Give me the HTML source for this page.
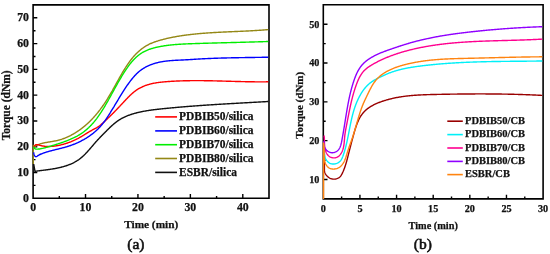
<!DOCTYPE html>
<html><head><meta charset="utf-8"><title>Torque curves</title>
<style>
html,body{margin:0;padding:0;background:#fff;}
body{width:550px;height:254px;overflow:hidden;}
svg{display:block;}
.lt{font-family:"Liberation Serif","Times New Roman",serif;font-weight:bold;fill:#111;stroke:#111;stroke-width:0.25px;}
.pl{font-family:"Liberation Serif","Times New Roman",serif;font-weight:normal;font-size:15.5px;fill:#111;stroke:#111;stroke-width:0.6px;}
</style></head>
<body>
<svg width="550" height="254" viewBox="0 0 550 254">
<rect width="550" height="254" fill="#fff"/>
<path d="M33.10,4.90H269.00V198.30H33.10Z" fill="none" stroke="#000" stroke-width="1.60" stroke-linejoin="miter"/>
<path d="M85.52,198.30V194.10M137.94,198.30V194.10M190.37,198.30V194.10M242.79,198.30V194.10M59.31,198.30V195.90M111.73,198.30V195.90M164.16,198.30V195.90M216.58,198.30V195.90M33.10,172.51H37.30M33.10,146.73H37.30M33.10,120.94H37.30M33.10,95.15H37.30M33.10,69.37H37.30M33.10,43.58H37.30M33.10,17.79H37.30M33.10,185.41H35.50M33.10,159.62H35.50M33.10,133.83H35.50M33.10,108.05H35.50M33.10,82.26H35.50M33.10,56.47H35.50M33.10,30.69H35.50" stroke="#000" stroke-width="1.4"/>
<g class="lt" font-size="11.80" text-anchor="middle">
<text x="33.10" y="210.7">0</text>
<text x="85.52" y="210.7">10</text>
<text x="137.94" y="210.7">20</text>
<text x="190.37" y="210.7">30</text>
<text x="242.79" y="210.7">40</text>
</g><g class="lt" font-size="11.80" text-anchor="end">
<text x="29.0" y="201.80">0</text>
<text x="29.0" y="176.01">10</text>
<text x="29.0" y="150.23">20</text>
<text x="29.0" y="124.44">30</text>
<text x="29.0" y="98.65">40</text>
<text x="29.0" y="72.87">50</text>
<text x="29.0" y="47.08">60</text>
<text x="29.0" y="21.29">70</text>
</g>
<path d="M323.30,4.80H543.10V198.90H323.30Z" fill="none" stroke="#000" stroke-width="1.60" stroke-linejoin="miter"/>
<path d="M359.93,198.90V194.70M396.57,198.90V194.70M433.20,198.90V194.70M469.83,198.90V194.70M506.47,198.90V194.70M341.62,198.90V196.50M378.25,198.90V196.50M414.88,198.90V196.50M451.52,198.90V196.50M488.15,198.90V196.50M524.78,198.90V196.50M323.30,179.49H327.50M323.30,140.67H327.50M323.30,101.85H327.50M323.30,63.03H327.50M323.30,24.21H327.50M323.30,160.08H325.70M323.30,121.26H325.70M323.30,82.44H325.70M323.30,43.62H325.70" stroke="#000" stroke-width="1.4"/>
<g class="lt" font-size="10.20" text-anchor="middle">
<text x="323.30" y="211.5">0</text>
<text x="359.93" y="211.5">5</text>
<text x="396.57" y="211.5">10</text>
<text x="433.20" y="211.5">15</text>
<text x="469.83" y="211.5">20</text>
<text x="506.47" y="211.5">25</text>
<text x="543.10" y="211.5">30</text>
</g><g class="lt" font-size="10.20" text-anchor="end">
<text x="319.4" y="182.89">10</text>
<text x="319.4" y="144.07">20</text>
<text x="319.4" y="105.25">30</text>
<text x="319.4" y="66.43">40</text>
<text x="319.4" y="27.61">50</text>
</g>
<g fill="none" stroke-width="1.40" stroke-linejoin="round" stroke-linecap="butt">
<path d="M33.70,164.20L35.00,171.30L35.00,171.30L35.58,171.23L36.16,171.15L36.75,171.07L37.33,170.99L37.92,170.92L38.51,170.84L39.10,170.77L39.69,170.69L40.28,170.62L40.87,170.55L41.47,170.47L42.06,170.40L42.66,170.32L43.26,170.25L43.86,170.17L44.45,170.10L45.05,170.02L45.65,169.94L46.25,169.86L46.85,169.78L47.46,169.70L48.06,169.62L48.66,169.54L49.26,169.45L49.86,169.36L50.46,169.27L51.06,169.18L51.66,169.09L52.26,168.99L52.86,168.89L53.46,168.79L54.06,168.69L54.66,168.58L55.26,168.47L55.85,168.36L56.45,168.25L57.04,168.13L57.64,168.01L58.23,167.88L58.82,167.75L59.41,167.62L59.99,167.49L60.58,167.35L61.16,167.20L61.75,167.05L62.33,166.90L62.91,166.75L63.48,166.58L64.06,166.42L64.63,166.25L65.20,166.07L65.77,165.89L66.33,165.71L66.90,165.52L67.46,165.32L68.02,165.12L68.57,164.91L69.12,164.70L69.67,164.48L70.22,164.26L70.76,164.03L71.30,163.80L71.84,163.55L72.37,163.31L72.90,163.05L73.43,162.79L73.95,162.52L74.47,162.25L74.99,161.97L75.50,161.68L76.01,161.38L76.51,161.08L77.01,160.77L77.51,160.45L78.00,160.13L78.48,159.80L78.97,159.46L79.45,159.11L79.92,158.75L80.39,158.39L80.85,158.02L81.31,157.64L81.77,157.25L82.22,156.86L82.67,156.46L83.11,156.06L83.56,155.64L83.99,155.23L84.43,154.81L84.86,154.38L85.29,153.95L85.71,153.51L86.13,153.07L86.55,152.63L86.97,152.18L87.39,151.73L87.80,151.28L88.21,150.82L88.62,150.36L89.02,149.90L89.43,149.44L89.83,148.98L90.23,148.51L90.63,148.05L91.03,147.58L91.43,147.11L91.83,146.65L92.23,146.18L92.62,145.71L93.02,145.25L93.41,144.78L93.81,144.32L94.20,143.86L94.60,143.40L94.99,142.94L95.39,142.49L95.78,142.04L96.18,141.59L96.58,141.15L96.97,140.70L97.37,140.27L97.77,139.83L98.17,139.40L98.57,138.97L98.98,138.55L99.38,138.12L99.79,137.70L100.19,137.28L100.60,136.86L101.01,136.44L101.41,136.02L101.82,135.61L102.23,135.19L102.65,134.77L103.06,134.35L103.47,133.93L103.89,133.51L104.31,133.09L104.72,132.67L105.14,132.24L105.56,131.82L105.98,131.39L106.41,130.96L106.83,130.53L107.26,130.11L107.69,129.68L108.12,129.25L108.55,128.82L108.98,128.40L109.42,127.97L109.86,127.55L110.30,127.13L110.74,126.71L111.19,126.30L111.64,125.89L112.09,125.48L112.54,125.07L113.00,124.67L113.46,124.27L113.92,123.88L114.38,123.49L114.85,123.11L115.33,122.73L115.80,122.36L116.28,121.99L116.76,121.63L117.25,121.28L117.74,120.93L118.23,120.59L118.73,120.26L119.23,119.93L119.73,119.61L120.24,119.30L120.75,119.00L121.27,118.70L121.79,118.41L122.31,118.13L122.84,117.86L123.37,117.59L123.90,117.33L124.44,117.07L124.98,116.82L125.52,116.58L126.06,116.34L126.61,116.11L127.16,115.89L127.71,115.67L128.26,115.45L128.82,115.24L129.38,115.04L129.94,114.84L130.50,114.64L131.06,114.46L131.63,114.27L132.20,114.09L132.77,113.92L133.34,113.75L133.91,113.58L134.49,113.42L135.06,113.26L135.64,113.10L136.22,112.95L136.80,112.80L137.38,112.66L137.96,112.52L138.54,112.38L139.12,112.25L139.70,112.11L140.29,111.99L140.87,111.86L141.46,111.74L142.05,111.62L142.63,111.50L143.22,111.39L143.81,111.28L144.40,111.17L144.99,111.07L145.58,110.96L146.17,110.86L146.76,110.76L147.36,110.67L147.95,110.57L148.54,110.48L149.14,110.39L149.73,110.30L150.33,110.22L150.92,110.13L151.52,110.05L152.11,109.97L152.71,109.89L153.31,109.82L153.91,109.74L154.50,109.67L155.10,109.59L155.70,109.52L156.30,109.45L156.90,109.38L157.49,109.31L158.09,109.25L158.69,109.18L159.29,109.11L159.89,109.05L160.49,108.99L161.09,108.92L161.69,108.86L162.29,108.80L162.89,108.74L163.49,108.67L164.09,108.61L164.68,108.55L165.28,108.49L165.88,108.43L166.48,108.37L167.08,108.31L167.68,108.26L168.28,108.20L168.88,108.14L169.48,108.08L170.08,108.02L170.67,107.97L171.27,107.91L171.87,107.85L172.47,107.80L173.07,107.74L173.67,107.69L174.27,107.63L174.86,107.58L175.46,107.53L176.06,107.47L176.66,107.42L177.26,107.37L177.86,107.31L178.45,107.26L179.05,107.21L179.65,107.16L180.25,107.10L180.85,107.05L181.45,107.00L182.04,106.95L182.64,106.90L183.24,106.85L183.84,106.80L184.44,106.75L185.03,106.70L185.63,106.66L186.23,106.61L186.83,106.56L187.43,106.51L188.02,106.46L188.62,106.42L189.22,106.37L189.82,106.32L190.41,106.28L191.01,106.23L191.61,106.18L192.21,106.14L192.81,106.09L193.40,106.05L194.00,106.00L194.60,105.96L195.20,105.91L195.79,105.87L196.39,105.83L196.99,105.78L197.59,105.74L198.19,105.70L198.78,105.65L199.38,105.61L199.98,105.57L200.58,105.53L201.17,105.48L201.77,105.44L202.37,105.40L202.97,105.36L203.56,105.32L204.16,105.28L204.76,105.24L205.36,105.19L205.95,105.15L206.55,105.11L207.15,105.07L207.75,105.03L208.35,104.99L208.94,104.96L209.54,104.92L210.14,104.88L210.74,104.84L211.33,104.80L211.93,104.76L212.53,104.72L213.13,104.68L213.72,104.65L214.32,104.61L214.92,104.57L215.52,104.53L216.12,104.50L216.71,104.46L217.31,104.42L217.91,104.38L218.51,104.35L219.10,104.31L219.70,104.27L220.30,104.24L220.90,104.20L221.50,104.16L222.09,104.13L222.69,104.09L223.29,104.06L223.89,104.02L224.49,103.99L225.08,103.95L225.68,103.91L226.28,103.88L226.88,103.84L227.48,103.81L228.07,103.77L228.67,103.74L229.27,103.70L229.87,103.67L230.47,103.63L231.06,103.60L231.66,103.57L232.26,103.53L232.86,103.50L233.46,103.46L234.06,103.43L234.65,103.39L235.25,103.36L235.85,103.33L236.45,103.29L237.05,103.26L237.65,103.22L238.25,103.19L238.84,103.16L239.44,103.12L240.04,103.09L240.64,103.06L241.24,103.02L241.84,102.99L242.44,102.96L243.04,102.92L243.63,102.89L244.23,102.86L244.83,102.82L245.43,102.79L246.03,102.75L246.63,102.72L247.23,102.69L247.83,102.65L248.43,102.62L249.03,102.59L249.63,102.55L250.23,102.52L250.83,102.49L251.43,102.45L252.03,102.42L252.62,102.39L253.22,102.35L253.82,102.32L254.42,102.29L255.02,102.25L255.62,102.22L256.22,102.19L256.82,102.15L257.42,102.12L258.02,102.09L258.62,102.05L259.22,102.02L259.82,101.98L260.43,101.95L261.03,101.92L261.63,101.88L262.23,101.85L262.83,101.81L263.43,101.78L264.03,101.75L264.63,101.71L265.23,101.68L265.83,101.64L266.43,101.61L267.03,101.57L267.63,101.54L268.24,101.50L268.30,101.50" stroke="#101010"/>
<path d="M33.30,164.00L33.30,145.30L33.90,147.50L33.89,147.50L34.38,147.06L34.88,146.66L35.39,146.28L35.90,145.93L36.42,145.60L36.94,145.30L37.47,145.02L38.00,144.76L38.54,144.52L39.08,144.30L39.63,144.09L40.18,143.90L40.73,143.73L41.29,143.56L41.85,143.41L42.41,143.27L42.97,143.14L43.54,143.01L44.11,142.89L44.68,142.78L45.25,142.66L45.82,142.56L46.40,142.45L46.97,142.35L47.55,142.25L48.13,142.15L48.70,142.06L49.28,141.96L49.86,141.87L50.44,141.77L51.02,141.67L51.60,141.58L52.19,141.48L52.77,141.38L53.35,141.28L53.93,141.17L54.52,141.06L55.10,140.95L55.68,140.83L56.26,140.71L56.84,140.58L57.42,140.45L58.00,140.31L58.58,140.16L59.16,140.01L59.74,139.85L60.32,139.68L60.90,139.51L61.47,139.32L62.05,139.14L62.62,138.94L63.19,138.74L63.76,138.53L64.33,138.31L64.90,138.09L65.47,137.86L66.03,137.62L66.59,137.38L67.15,137.14L67.71,136.89L68.27,136.63L68.82,136.37L69.37,136.10L69.92,135.82L70.47,135.55L71.01,135.26L71.56,134.97L72.09,134.68L72.63,134.38L73.16,134.08L73.69,133.78L74.22,133.47L74.75,133.15L75.27,132.84L75.78,132.52L76.30,132.19L76.81,131.86L77.32,131.53L77.82,131.20L78.32,130.86L78.82,130.51L79.32,130.17L79.81,129.82L80.30,129.46L80.78,129.11L81.26,128.75L81.74,128.39L82.22,128.02L82.69,127.65L83.16,127.28L83.63,126.90L84.10,126.52L84.56,126.14L85.02,125.75L85.47,125.36L85.92,124.97L86.37,124.58L86.82,124.18L87.26,123.78L87.71,123.38L88.14,122.97L88.58,122.56L89.01,122.15L89.44,121.74L89.87,121.32L90.30,120.90L90.72,120.48L91.14,120.05L91.55,119.62L91.97,119.19L92.38,118.76L92.79,118.33L93.19,117.89L93.60,117.45L94.00,117.01L94.40,116.56L94.79,116.11L95.18,115.66L95.58,115.21L95.96,114.76L96.35,114.30L96.73,113.85L97.11,113.39L97.49,112.92L97.87,112.46L98.24,111.99L98.61,111.52L98.98,111.05L99.35,110.58L99.72,110.11L100.08,109.63L100.44,109.15L100.80,108.67L101.15,108.19L101.50,107.71L101.86,107.22L102.21,106.74L102.55,106.25L102.90,105.76L103.24,105.27L103.58,104.78L103.92,104.28L104.25,103.79L104.59,103.29L104.92,102.79L105.25,102.29L105.58,101.79L105.91,101.29L106.23,100.79L106.55,100.28L106.87,99.78L107.19,99.27L107.51,98.76L107.82,98.25L108.14,97.74L108.45,97.23L108.76,96.72L109.07,96.21L109.38,95.69L109.68,95.18L109.99,94.66L110.29,94.15L110.59,93.63L110.89,93.11L111.19,92.59L111.49,92.08L111.79,91.56L112.09,91.04L112.38,90.51L112.68,89.99L112.97,89.47L113.27,88.95L113.56,88.43L113.85,87.90L114.15,87.38L114.44,86.85L114.73,86.33L115.02,85.81L115.31,85.28L115.60,84.76L115.89,84.23L116.18,83.71L116.48,83.18L116.77,82.66L117.06,82.13L117.35,81.61L117.64,81.08L117.93,80.55L118.22,80.03L118.52,79.50L118.81,78.98L119.10,78.46L119.40,77.93L119.69,77.41L119.99,76.88L120.28,76.36L120.58,75.84L120.88,75.31L121.18,74.79L121.48,74.27L121.78,73.75L122.08,73.23L122.39,72.71L122.69,72.19L123.00,71.67L123.31,71.15L123.62,70.64L123.93,70.12L124.24,69.61L124.56,69.10L124.88,68.58L125.19,68.07L125.52,67.57L125.84,67.06L126.17,66.55L126.49,66.05L126.82,65.55L127.16,65.05L127.49,64.55L127.83,64.05L128.17,63.56L128.52,63.07L128.86,62.58L129.21,62.09L129.57,61.61L129.92,61.13L130.28,60.65L130.65,60.17L131.01,59.70L131.38,59.23L131.76,58.76L132.13,58.30L132.52,57.84L132.90,57.38L133.29,56.92L133.68,56.47L134.08,56.03L134.48,55.58L134.89,55.14L135.30,54.71L135.71,54.27L136.13,53.84L136.56,53.42L136.98,53.00L137.42,52.58L137.86,52.17L138.30,51.76L138.75,51.36L139.20,50.96L139.66,50.56L140.12,50.18L140.59,49.79L141.06,49.41L141.54,49.04L142.02,48.67L142.51,48.31L143.00,47.95L143.49,47.60L143.99,47.26L144.49,46.93L145.00,46.60L145.51,46.28L146.02,45.96L146.54,45.65L147.06,45.36L147.59,45.06L148.11,44.78L148.64,44.51L149.18,44.24L149.71,43.98L150.25,43.73L150.79,43.49L151.34,43.26L151.88,43.03L152.43,42.81L152.98,42.59L153.54,42.38L154.09,42.18L154.65,41.98L155.21,41.78L155.77,41.59L156.33,41.41L156.90,41.23L157.46,41.05L158.03,40.88L158.60,40.70L159.17,40.53L159.74,40.37L160.31,40.20L160.88,40.04L161.45,39.88L162.03,39.73L162.60,39.57L163.18,39.42L163.76,39.27L164.34,39.12L164.92,38.98L165.50,38.83L166.08,38.69L166.66,38.55L167.24,38.42L167.82,38.28L168.41,38.15L168.99,38.02L169.58,37.89L170.17,37.76L170.75,37.64L171.34,37.52L171.93,37.40L172.52,37.28L173.11,37.16L173.70,37.05L174.29,36.94L174.88,36.83L175.47,36.72L176.07,36.61L176.66,36.51L177.25,36.40L177.85,36.30L178.44,36.20L179.04,36.10L179.63,36.01L180.23,35.91L180.82,35.82L181.42,35.73L182.02,35.64L182.61,35.55L183.21,35.46L183.81,35.38L184.41,35.30L185.00,35.21L185.60,35.13L186.20,35.05L186.80,34.97L187.40,34.90L188.00,34.82L188.60,34.75L189.20,34.68L189.80,34.60L190.40,34.53L190.99,34.47L191.59,34.40L192.19,34.33L192.79,34.27L193.39,34.20L193.99,34.14L194.59,34.08L195.19,34.02L195.79,33.96L196.39,33.90L196.99,33.84L197.59,33.78L198.18,33.73L198.78,33.67L199.38,33.62L199.98,33.57L200.58,33.51L201.18,33.46L201.78,33.41L202.37,33.36L202.97,33.32L203.57,33.27L204.17,33.22L204.77,33.18L205.36,33.13L205.96,33.09L206.56,33.04L207.16,33.00L207.76,32.96L208.35,32.92L208.95,32.88L209.55,32.84L210.15,32.80L210.75,32.76L211.34,32.72L211.94,32.68L212.54,32.65L213.14,32.61L213.73,32.57L214.33,32.54L214.93,32.51L215.53,32.47L216.12,32.44L216.72,32.41L217.32,32.37L217.92,32.34L218.51,32.31L219.11,32.28L219.71,32.25L220.31,32.22L220.90,32.19L221.50,32.16L222.10,32.13L222.70,32.10L223.29,32.07L223.89,32.04L224.49,32.01L225.09,31.99L225.68,31.96L226.28,31.93L226.88,31.90L227.47,31.88L228.07,31.85L228.67,31.82L229.27,31.80L229.86,31.77L230.46,31.75L231.06,31.72L231.66,31.69L232.26,31.67L232.85,31.64L233.45,31.62L234.05,31.59L234.65,31.56L235.24,31.54L235.84,31.51L236.44,31.49L237.04,31.46L237.63,31.43L238.23,31.41L238.83,31.38L239.43,31.36L240.03,31.33L240.62,31.30L241.22,31.27L241.82,31.25L242.42,31.22L243.02,31.19L243.62,31.16L244.21,31.14L244.81,31.11L245.41,31.08L246.01,31.05L246.61,31.02L247.21,30.99L247.81,30.96L248.40,30.93L249.00,30.90L249.60,30.87L250.20,30.84L250.80,30.81L251.40,30.77L252.00,30.74L252.60,30.71L253.20,30.67L253.80,30.64L254.40,30.60L254.99,30.57L255.59,30.53L256.19,30.49L256.79,30.46L257.39,30.42L257.99,30.38L258.59,30.34L259.19,30.30L259.79,30.26L260.39,30.22L261.00,30.18L261.60,30.13L262.20,30.09L262.80,30.04L263.40,30.00L264.00,29.95L264.60,29.91L265.20,29.86L265.80,29.81L266.40,29.76L267.01,29.71L267.61,29.66L268.21,29.61L268.30,29.60" stroke="#948816"/>
<path d="M33.89,147.00L34.27,146.25L34.67,145.66L35.10,145.22L35.54,144.91L36.01,144.71L36.49,144.62L36.99,144.60L37.50,144.66L38.03,144.76L38.56,144.91L39.10,145.08L39.66,145.25L40.21,145.42L40.78,145.57L41.34,145.71L41.91,145.84L42.49,145.96L43.07,146.06L43.65,146.15L44.24,146.23L44.83,146.30L45.42,146.35L46.02,146.40L46.62,146.44L47.22,146.46L47.82,146.48L48.43,146.48L49.03,146.48L49.64,146.46L50.25,146.44L50.86,146.41L51.47,146.37L52.08,146.32L52.69,146.27L53.30,146.21L53.91,146.14L54.52,146.06L55.12,145.98L55.73,145.89L56.33,145.79L56.94,145.69L57.54,145.58L58.14,145.47L58.73,145.35L59.33,145.22L59.92,145.10L60.51,144.97L61.09,144.83L61.68,144.69L62.26,144.54L62.83,144.39L63.41,144.24L63.98,144.08L64.55,143.92L65.12,143.75L65.68,143.57L66.25,143.40L66.81,143.22L67.36,143.03L67.92,142.84L68.48,142.64L69.03,142.44L69.58,142.24L70.13,142.03L70.68,141.81L71.22,141.60L71.77,141.37L72.31,141.14L72.85,140.91L73.40,140.67L73.94,140.43L74.47,140.19L75.01,139.93L75.55,139.68L76.08,139.42L76.62,139.15L77.15,138.88L77.69,138.61L78.22,138.33L78.75,138.04L79.28,137.75L79.81,137.46L80.34,137.16L80.87,136.85L81.40,136.55L81.94,136.23L82.47,135.91L83.00,135.59L83.53,135.27L84.05,134.94L84.58,134.61L85.11,134.28L85.64,133.95L86.17,133.62L86.69,133.29L87.22,132.97L87.75,132.64L88.27,132.33L88.79,132.01L89.31,131.70L89.83,131.40L90.35,131.10L90.87,130.81L91.39,130.53L91.90,130.25L92.41,129.98L92.93,129.71L93.44,129.44L93.94,129.17L94.45,128.90L94.95,128.63L95.45,128.35L95.95,128.07L96.45,127.79L96.94,127.49L97.44,127.20L97.93,126.89L98.41,126.57L98.90,126.24L99.38,125.90L99.86,125.55L100.33,125.18L100.81,124.80L101.28,124.41L101.74,124.02L102.21,123.61L102.67,123.20L103.13,122.78L103.59,122.36L104.04,121.93L104.50,121.50L104.95,121.07L105.39,120.65L105.84,120.22L106.28,119.79L106.72,119.37L107.16,118.95L107.60,118.53L108.03,118.11L108.47,117.70L108.90,117.28L109.33,116.87L109.76,116.46L110.18,116.04L110.61,115.63L111.03,115.22L111.45,114.81L111.87,114.39L112.28,113.98L112.70,113.57L113.12,113.15L113.53,112.73L113.94,112.32L114.35,111.90L114.76,111.48L115.17,111.06L115.58,110.63L115.99,110.21L116.40,109.79L116.80,109.36L117.21,108.94L117.62,108.51L118.02,108.08L118.43,107.65L118.83,107.22L119.24,106.79L119.65,106.36L120.05,105.92L120.46,105.49L120.87,105.06L121.28,104.62L121.68,104.18L122.09,103.75L122.50,103.31L122.92,102.87L123.33,102.43L123.74,101.99L124.16,101.54L124.57,101.10L124.99,100.66L125.41,100.21L125.83,99.77L126.26,99.32L126.68,98.88L127.11,98.43L127.54,97.99L127.97,97.54L128.40,97.10L128.84,96.66L129.28,96.22L129.72,95.79L130.16,95.36L130.61,94.93L131.06,94.51L131.51,94.09L131.97,93.68L132.43,93.27L132.89,92.87L133.36,92.47L133.83,92.08L134.30,91.70L134.78,91.33L135.26,90.96L135.74,90.60L136.23,90.25L136.72,89.91L137.22,89.58L137.72,89.26L138.22,88.95L138.73,88.65L139.24,88.35L139.76,88.07L140.28,87.79L140.80,87.52L141.33,87.26L141.86,87.01L142.39,86.76L142.93,86.52L143.47,86.30L144.01,86.07L144.56,85.86L145.11,85.65L145.66,85.45L146.21,85.26L146.77,85.07L147.33,84.89L147.89,84.71L148.46,84.55L149.03,84.39L149.60,84.23L150.17,84.08L150.74,83.94L151.32,83.80L151.90,83.66L152.48,83.54L153.06,83.41L153.64,83.29L154.23,83.18L154.82,83.07L155.41,82.97L156.00,82.87L156.59,82.77L157.18,82.68L157.78,82.59L158.37,82.51L158.97,82.43L159.57,82.35L160.17,82.28L160.77,82.21L161.37,82.14L161.97,82.08L162.57,82.01L163.17,81.95L163.78,81.90L164.38,81.84L164.98,81.79L165.59,81.74L166.19,81.69L166.80,81.64L167.40,81.60L168.01,81.55L168.61,81.51L169.21,81.47L169.82,81.43L170.42,81.39L171.03,81.35L171.63,81.31L172.23,81.28L172.84,81.24L173.44,81.21L174.04,81.18L174.65,81.15L175.25,81.12L175.85,81.09L176.45,81.06L177.06,81.03L177.66,81.00L178.26,80.98L178.86,80.96L179.47,80.93L180.07,80.91L180.67,80.89L181.27,80.87L181.87,80.85L182.47,80.83L183.08,80.81L183.68,80.80L184.28,80.78L184.88,80.76L185.48,80.75L186.08,80.74L186.68,80.73L187.28,80.71L187.88,80.70L188.48,80.69L189.09,80.68L189.69,80.68L190.29,80.67L190.89,80.66L191.49,80.66L192.09,80.65L192.69,80.65L193.29,80.64L193.89,80.64L194.49,80.64L195.09,80.63L195.69,80.63L196.29,80.63L196.89,80.63L197.49,80.63L198.09,80.63L198.68,80.64L199.28,80.64L199.88,80.64L200.48,80.65L201.08,80.65L201.68,80.66L202.28,80.66L202.88,80.67L203.48,80.67L204.08,80.68L204.68,80.69L205.27,80.69L205.87,80.70L206.47,80.71L207.07,80.72L207.67,80.73L208.27,80.74L208.87,80.75L209.47,80.76L210.06,80.77L210.66,80.79L211.26,80.80L211.86,80.81L212.46,80.82L213.06,80.83L213.66,80.85L214.25,80.86L214.85,80.88L215.45,80.89L216.05,80.90L216.65,80.92L217.25,80.93L217.84,80.95L218.44,80.96L219.04,80.98L219.64,81.00L220.24,81.01L220.84,81.03L221.43,81.04L222.03,81.06L222.63,81.08L223.23,81.09L223.83,81.11L224.42,81.13L225.02,81.14L225.62,81.16L226.22,81.18L226.82,81.19L227.42,81.21L228.01,81.23L228.61,81.24L229.21,81.26L229.81,81.28L230.41,81.30L231.01,81.31L231.61,81.33L232.20,81.35L232.80,81.36L233.40,81.38L234.00,81.40L234.60,81.41L235.20,81.43L235.80,81.45L236.39,81.46L236.99,81.48L237.59,81.49L238.19,81.51L238.79,81.53L239.39,81.54L239.99,81.56L240.59,81.57L241.19,81.59L241.78,81.60L242.38,81.61L242.98,81.63L243.58,81.64L244.18,81.65L244.78,81.67L245.38,81.68L245.98,81.69L246.58,81.70L247.18,81.72L247.78,81.73L248.38,81.74L248.98,81.75L249.58,81.76L250.18,81.77L250.78,81.78L251.38,81.78L251.98,81.79L252.58,81.80L253.18,81.81L253.78,81.81L254.38,81.82L254.98,81.83L255.58,81.83L256.18,81.84L256.78,81.84L257.38,81.84L257.98,81.85L258.58,81.85L259.19,81.85L259.79,81.85L260.39,81.85L260.99,81.85L261.59,81.85L262.19,81.85L262.79,81.85L263.40,81.85L264.00,81.84L264.60,81.84L265.20,81.83L265.80,81.83L266.41,81.82L267.01,81.82L267.61,81.81L268.22,81.80L268.30,81.80" stroke="#ff0000"/>
<path d="M33.80,146.60L34.04,147.42L34.35,148.04L34.74,148.50L35.17,148.82L35.66,149.02L36.18,149.13L36.73,149.16L37.29,149.15L37.85,149.12L38.42,149.07L38.98,149.01L39.54,148.94L40.11,148.85L40.67,148.76L41.23,148.66L41.80,148.55L42.36,148.43L42.93,148.31L43.49,148.18L44.06,148.04L44.62,147.89L45.19,147.74L45.75,147.59L46.32,147.43L46.89,147.26L47.46,147.09L48.03,146.92L48.60,146.75L49.18,146.58L49.75,146.40L50.33,146.23L50.90,146.05L51.48,145.88L52.06,145.70L52.64,145.52L53.22,145.34L53.81,145.16L54.39,144.98L54.98,144.80L55.56,144.62L56.15,144.44L56.73,144.25L57.32,144.07L57.90,143.88L58.49,143.69L59.08,143.50L59.66,143.31L60.25,143.11L60.83,142.92L61.42,142.72L62.00,142.52L62.59,142.32L63.17,142.11L63.75,141.90L64.33,141.70L64.91,141.48L65.49,141.27L66.07,141.05L66.64,140.83L67.22,140.61L67.79,140.39L68.36,140.16L68.93,139.93L69.50,139.69L70.06,139.46L70.63,139.21L71.19,138.97L71.75,138.72L72.30,138.47L72.85,138.22L73.41,137.96L73.95,137.69L74.50,137.43L75.04,137.16L75.58,136.88L76.11,136.60L76.65,136.32L77.18,136.03L77.70,135.74L78.22,135.45L78.74,135.14L79.25,134.84L79.76,134.53L80.27,134.21L80.77,133.89L81.27,133.57L81.76,133.24L82.25,132.90L82.74,132.56L83.21,132.21L83.69,131.86L84.16,131.51L84.63,131.14L85.09,130.78L85.55,130.41L86.00,130.03L86.45,129.65L86.89,129.27L87.34,128.88L87.77,128.48L88.21,128.08L88.64,127.68L89.06,127.27L89.48,126.86L89.90,126.45L90.32,126.03L90.73,125.60L91.13,125.18L91.54,124.75L91.94,124.31L92.33,123.87L92.73,123.43L93.12,122.99L93.50,122.54L93.89,122.08L94.27,121.63L94.64,121.17L95.02,120.71L95.39,120.24L95.76,119.78L96.12,119.31L96.49,118.83L96.85,118.36L97.20,117.88L97.56,117.40L97.91,116.91L98.26,116.42L98.61,115.94L98.95,115.44L99.29,114.95L99.63,114.46L99.97,113.96L100.30,113.46L100.64,112.96L100.97,112.45L101.30,111.95L101.62,111.44L101.95,110.93L102.27,110.42L102.59,109.91L102.91,109.40L103.23,108.88L103.54,108.37L103.85,107.85L104.17,107.34L104.48,106.82L104.79,106.30L105.09,105.78L105.40,105.25L105.70,104.73L106.01,104.21L106.31,103.69L106.61,103.16L106.91,102.64L107.21,102.11L107.51,101.59L107.80,101.06L108.10,100.54L108.39,100.01L108.69,99.49L108.98,98.96L109.27,98.44L109.57,97.91L109.86,97.39L110.15,96.86L110.44,96.34L110.73,95.81L111.02,95.29L111.31,94.76L111.60,94.24L111.88,93.71L112.17,93.19L112.46,92.66L112.75,92.14L113.04,91.62L113.33,91.09L113.61,90.57L113.90,90.04L114.19,89.52L114.48,89.00L114.77,88.47L115.06,87.95L115.35,87.43L115.64,86.91L115.93,86.38L116.22,85.86L116.51,85.34L116.80,84.82L117.10,84.30L117.39,83.78L117.69,83.25L117.98,82.73L118.28,82.21L118.58,81.69L118.88,81.17L119.18,80.65L119.48,80.13L119.78,79.61L120.08,79.10L120.39,78.58L120.69,78.06L121.00,77.54L121.31,77.02L121.62,76.51L121.93,75.99L122.24,75.47L122.56,74.96L122.88,74.44L123.19,73.93L123.52,73.41L123.84,72.90L124.16,72.38L124.49,71.87L124.82,71.36L125.15,70.85L125.48,70.34L125.82,69.83L126.15,69.33L126.50,68.83L126.84,68.32L127.19,67.83L127.53,67.33L127.89,66.83L128.24,66.34L128.60,65.85L128.96,65.37L129.32,64.89L129.69,64.41L130.06,63.93L130.44,63.46L130.81,62.99L131.20,62.53L131.58,62.07L131.97,61.62L132.36,61.16L132.76,60.72L133.16,60.28L133.57,59.84L133.97,59.41L134.39,58.99L134.81,58.57L135.23,58.15L135.66,57.74L136.09,57.34L136.52,56.94L136.96,56.55L137.41,56.17L137.86,55.79L138.32,55.42L138.78,55.06L139.24,54.70L139.71,54.35L140.19,54.01L140.67,53.68L141.16,53.35L141.65,53.03L142.15,52.72L142.66,52.42L143.17,52.12L143.68,51.84L144.20,51.56L144.73,51.29L145.27,51.03L145.80,50.78L146.35,50.54L146.89,50.30L147.45,50.07L148.00,49.85L148.56,49.63L149.13,49.42L149.70,49.22L150.27,49.02L150.84,48.83L151.42,48.65L152.00,48.47L152.58,48.30L153.17,48.13L153.76,47.97L154.35,47.82L154.94,47.67L155.54,47.52L156.13,47.38L156.73,47.24L157.33,47.11L157.93,46.98L158.53,46.86L159.13,46.74L159.73,46.62L160.33,46.51L160.93,46.40L161.53,46.29L162.13,46.19L162.73,46.09L163.33,45.99L163.93,45.90L164.53,45.80L165.12,45.72L165.72,45.63L166.32,45.55L166.92,45.46L167.51,45.38L168.11,45.31L168.71,45.23L169.31,45.16L169.90,45.09L170.50,45.03L171.09,44.96L171.69,44.90L172.29,44.84L172.88,44.78L173.48,44.73L174.07,44.67L174.67,44.62L175.26,44.57L175.86,44.52L176.45,44.47L177.05,44.43L177.64,44.38L178.24,44.34L178.83,44.30L179.43,44.26L180.02,44.22L180.62,44.19L181.21,44.15L181.81,44.12L182.40,44.09L183.00,44.06L183.59,44.03L184.19,44.00L184.78,43.97L185.37,43.94L185.97,43.91L186.56,43.89L187.16,43.86L187.75,43.84L188.35,43.82L188.94,43.79L189.54,43.77L190.14,43.75L190.73,43.73L191.33,43.71L191.92,43.69L192.52,43.67L193.12,43.65L193.71,43.63L194.31,43.61L194.90,43.59L195.50,43.57L196.10,43.55L196.70,43.53L197.29,43.51L197.89,43.49L198.49,43.47L199.09,43.45L199.69,43.43L200.28,43.42L200.88,43.40L201.48,43.38L202.08,43.36L202.68,43.34L203.28,43.32L203.88,43.31L204.48,43.29L205.08,43.27L205.67,43.25L206.27,43.24L206.87,43.22L207.47,43.20L208.07,43.18L208.67,43.17L209.27,43.15L209.87,43.13L210.48,43.12L211.08,43.10L211.68,43.08L212.28,43.07L212.88,43.05L213.48,43.03L214.08,43.02L214.68,43.00L215.28,42.98L215.88,42.97L216.48,42.95L217.09,42.93L217.69,42.92L218.29,42.90L218.89,42.89L219.49,42.87L220.09,42.85L220.70,42.84L221.30,42.82L221.90,42.81L222.50,42.79L223.10,42.77L223.70,42.76L224.31,42.74L224.91,42.73L225.51,42.71L226.11,42.70L226.71,42.68L227.32,42.66L227.92,42.65L228.52,42.63L229.12,42.62L229.72,42.60L230.33,42.59L230.93,42.57L231.53,42.56L232.13,42.54L232.73,42.52L233.34,42.51L233.94,42.49L234.54,42.48L235.14,42.46L235.74,42.45L236.35,42.43L236.95,42.41L237.55,42.40L238.15,42.38L238.75,42.37L239.35,42.35L239.96,42.33L240.56,42.32L241.16,42.30L241.76,42.29L242.36,42.27L242.96,42.25L243.56,42.24L244.17,42.22L244.77,42.21L245.37,42.19L245.97,42.17L246.57,42.16L247.17,42.14L247.77,42.12L248.37,42.11L248.97,42.09L249.57,42.07L250.17,42.06L250.77,42.04L251.37,42.02L251.97,42.01L252.57,41.99L253.17,41.97L253.77,41.95L254.37,41.94L254.97,41.92L255.57,41.90L256.17,41.88L256.77,41.87L257.36,41.85L257.96,41.83L258.56,41.81L259.16,41.79L259.76,41.78L260.35,41.76L260.95,41.74L261.55,41.72L262.15,41.70L262.74,41.68L263.34,41.66L263.94,41.64L264.54,41.63L265.13,41.61L265.73,41.59L266.32,41.57L266.92,41.55L267.52,41.53L268.11,41.51L268.30,41.50" stroke="#00ee00"/>
<path d="M33.69,152.40L33.78,153.04L33.92,153.71L34.11,154.40L34.33,155.05L34.60,155.63L34.90,156.12L35.24,156.46L35.61,156.66L36.01,156.69L36.44,156.57L36.89,156.32L37.36,156.00L37.85,155.65L38.36,155.33L38.88,155.03L39.42,154.75L39.96,154.49L40.52,154.25L41.07,154.02L41.63,153.80L42.19,153.58L42.75,153.37L43.31,153.16L43.88,152.96L44.45,152.76L45.01,152.57L45.58,152.38L46.15,152.20L46.72,152.02L47.30,151.84L47.87,151.67L48.45,151.50L49.02,151.34L49.60,151.18L50.18,151.02L50.75,150.86L51.33,150.71L51.91,150.56L52.49,150.41L53.07,150.26L53.66,150.11L54.24,149.96L54.82,149.82L55.40,149.68L55.99,149.53L56.57,149.39L57.15,149.25L57.74,149.11L58.32,148.96L58.91,148.82L59.49,148.68L60.07,148.53L60.66,148.39L61.24,148.24L61.82,148.09L62.40,147.94L62.99,147.79L63.57,147.63L64.15,147.48L64.73,147.32L65.31,147.15L65.89,146.99L66.47,146.82L67.05,146.65L67.62,146.47L68.20,146.29L68.77,146.11L69.35,145.92L69.92,145.73L70.49,145.53L71.06,145.33L71.63,145.13L72.20,144.92L72.77,144.71L73.33,144.49L73.90,144.27L74.46,144.04L75.02,143.81L75.58,143.58L76.14,143.34L76.69,143.10L77.24,142.86L77.80,142.61L78.34,142.35L78.89,142.09L79.44,141.83L79.98,141.56L80.52,141.29L81.06,141.02L81.60,140.74L82.13,140.46L82.66,140.17L83.19,139.88L83.72,139.59L84.24,139.29L84.76,138.98L85.28,138.68L85.80,138.37L86.31,138.05L86.82,137.73L87.33,137.41L87.83,137.08L88.33,136.75L88.83,136.41L89.33,136.08L89.82,135.73L90.30,135.38L90.79,135.03L91.27,134.68L91.75,134.32L92.22,133.96L92.69,133.59L93.16,133.22L93.62,132.84L94.08,132.46L94.54,132.08L94.99,131.69L95.44,131.30L95.88,130.91L96.32,130.51L96.76,130.11L97.19,129.70L97.62,129.29L98.04,128.88L98.46,128.46L98.87,128.03L99.28,127.61L99.69,127.18L100.09,126.74L100.48,126.31L100.87,125.86L101.26,125.42L101.64,124.97L102.02,124.52L102.39,124.06L102.76,123.60L103.12,123.14L103.48,122.67L103.84,122.20L104.20,121.72L104.55,121.25L104.89,120.77L105.24,120.29L105.58,119.80L105.92,119.31L106.26,118.82L106.59,118.33L106.92,117.83L107.25,117.34L107.58,116.84L107.91,116.34L108.24,115.83L108.57,115.33L108.89,114.82L109.21,114.31L109.54,113.80L109.86,113.29L110.18,112.77L110.51,112.26L110.83,111.74L111.15,111.22L111.47,110.71L111.79,110.19L112.11,109.67L112.43,109.15L112.75,108.62L113.07,108.10L113.39,107.58L113.71,107.06L114.02,106.53L114.34,106.01L114.66,105.49L114.97,104.96L115.29,104.44L115.60,103.92L115.92,103.39L116.23,102.87L116.54,102.35L116.85,101.83L117.17,101.31L117.48,100.79L117.79,100.27L118.10,99.75L118.41,99.24L118.72,98.72L119.03,98.21L119.34,97.69L119.64,97.18L119.95,96.67L120.26,96.16L120.57,95.65L120.88,95.14L121.19,94.63L121.50,94.13L121.81,93.62L122.12,93.12L122.44,92.62L122.75,92.12L123.06,91.62L123.38,91.12L123.69,90.62L124.01,90.12L124.33,89.63L124.65,89.13L124.98,88.64L125.30,88.15L125.63,87.65L125.96,87.16L126.29,86.68L126.62,86.19L126.95,85.70L127.29,85.22L127.63,84.73L127.97,84.25L128.32,83.77L128.66,83.28L129.02,82.80L129.37,82.33L129.73,81.85L130.09,81.37L130.45,80.90L130.82,80.42L131.19,79.95L131.56,79.48L131.94,79.01L132.32,78.54L132.70,78.07L133.09,77.61L133.49,77.15L133.89,76.69L134.29,76.24L134.69,75.79L135.11,75.34L135.52,74.90L135.94,74.47L136.37,74.03L136.80,73.61L137.23,73.19L137.68,72.78L138.12,72.37L138.57,71.97L139.03,71.58L139.49,71.20L139.96,70.82L140.44,70.45L140.92,70.09L141.40,69.74L141.89,69.40L142.39,69.06L142.89,68.73L143.39,68.41L143.91,68.10L144.42,67.80L144.94,67.50L145.47,67.21L145.99,66.93L146.53,66.65L147.06,66.39L147.60,66.13L148.15,65.87L148.70,65.63L149.25,65.39L149.80,65.16L150.36,64.93L150.92,64.71L151.48,64.50L152.05,64.29L152.62,64.09L153.19,63.90L153.76,63.71L154.34,63.53L154.91,63.36L155.49,63.19L156.08,63.03L156.66,62.87L157.24,62.72L157.83,62.58L158.41,62.44L159.00,62.30L159.59,62.17L160.18,62.05L160.77,61.93L161.36,61.82L161.95,61.72L162.54,61.61L163.13,61.52L163.72,61.42L164.32,61.34L164.91,61.25L165.50,61.17L166.09,61.10L166.68,61.03L167.28,60.96L167.87,60.90L168.46,60.83L169.06,60.78L169.65,60.72L170.24,60.67L170.84,60.62L171.43,60.58L172.03,60.53L172.62,60.49L173.21,60.45L173.81,60.42L174.40,60.38L175.00,60.35L175.59,60.32L176.19,60.28L176.78,60.25L177.38,60.22L177.98,60.20L178.57,60.17L179.17,60.14L179.76,60.11L180.36,60.09L180.96,60.06L181.55,60.03L182.15,60.00L182.75,59.98L183.35,59.95L183.94,59.92L184.54,59.89L185.14,59.86L185.74,59.82L186.33,59.79L186.93,59.76L187.53,59.72L188.13,59.69L188.73,59.65L189.32,59.61L189.92,59.58L190.52,59.54L191.12,59.50L191.72,59.47L192.32,59.43L192.92,59.39L193.52,59.35L194.12,59.32L194.72,59.28L195.32,59.24L195.91,59.20L196.51,59.17L197.11,59.13L197.71,59.09L198.31,59.06L198.91,59.02L199.51,58.99L200.11,58.95L200.72,58.92L201.32,58.89L201.92,58.85L202.52,58.82L203.12,58.79L203.72,58.76L204.32,58.73L204.92,58.70L205.52,58.67L206.12,58.64L206.72,58.61L207.32,58.58L207.92,58.56L208.53,58.53L209.13,58.50L209.73,58.48L210.33,58.45L210.93,58.43L211.53,58.40L212.13,58.38L212.74,58.35L213.34,58.33L213.94,58.31L214.54,58.29L215.14,58.27L215.74,58.24L216.34,58.22L216.95,58.20L217.55,58.18L218.15,58.16L218.75,58.14L219.35,58.12L219.96,58.11L220.56,58.09L221.16,58.07L221.76,58.05L222.36,58.04L222.96,58.02L223.57,58.00L224.17,57.99L224.77,57.97L225.37,57.96L225.97,57.94L226.57,57.93L227.18,57.91L227.78,57.90L228.38,57.88L228.98,57.87L229.58,57.85L230.18,57.84L230.79,57.83L231.39,57.82L231.99,57.80L232.59,57.79L233.19,57.78L233.79,57.77L234.40,57.76L235.00,57.74L235.60,57.73L236.20,57.72L236.80,57.71L237.40,57.70L238.00,57.69L238.60,57.68L239.21,57.67L239.81,57.66L240.41,57.65L241.01,57.64L241.61,57.63L242.21,57.62L242.81,57.61L243.41,57.60L244.01,57.59L244.61,57.58L245.21,57.57L245.81,57.56L246.41,57.55L247.01,57.54L247.61,57.54L248.21,57.53L248.81,57.52L249.41,57.51L250.01,57.50L250.61,57.49L251.21,57.48L251.81,57.47L252.41,57.46L253.01,57.46L253.61,57.45L254.21,57.44L254.80,57.43L255.40,57.42L256.00,57.41L256.60,57.40L257.20,57.39L257.80,57.38L258.39,57.37L258.99,57.36L259.59,57.35L260.19,57.34L260.79,57.34L261.38,57.33L261.98,57.32L262.58,57.31L263.17,57.29L263.77,57.28L264.37,57.27L264.96,57.26L265.56,57.25L266.16,57.24L266.75,57.23L267.35,57.22L267.95,57.21L268.30,57.20" stroke="#0000ff"/>
<path d="M324.40,150.00L324.40,171.00L324.40,171.00L324.54,171.58L324.71,172.15L324.93,172.71L325.17,173.26L325.45,173.80L325.76,174.32L326.09,174.83L326.46,175.31L326.85,175.78L327.27,176.23L327.72,176.65L328.18,177.05L328.67,177.41L329.18,177.75L329.70,178.06L330.25,178.33L330.81,178.57L331.38,178.77L331.97,178.93L332.57,179.05L333.18,179.12L333.79,179.15L334.42,179.14L335.04,179.09L335.66,178.99L336.27,178.85L336.87,178.68L337.45,178.46L338.01,178.21L338.55,177.92L339.07,177.60L339.55,177.24L339.99,176.84L340.40,176.41L340.77,175.96L341.11,175.48L341.43,174.97L341.72,174.46L341.99,173.93L342.26,173.39L342.51,172.85L342.76,172.31L343.00,171.77L343.24,171.23L343.47,170.68L343.69,170.14L343.91,169.59L344.12,169.04L344.33,168.49L344.53,167.94L344.73,167.39L344.93,166.83L345.12,166.28L345.30,165.72L345.48,165.16L345.66,164.60L345.84,164.04L346.01,163.48L346.18,162.92L346.34,162.36L346.50,161.79L346.66,161.23L346.82,160.66L346.97,160.09L347.13,159.53L347.28,158.96L347.43,158.39L347.58,157.81L347.72,157.24L347.87,156.67L348.01,156.09L348.16,155.52L348.30,154.94L348.45,154.37L348.59,153.79L348.73,153.21L348.88,152.63L349.02,152.05L349.17,151.47L349.31,150.89L349.46,150.31L349.61,149.72L349.75,149.14L349.90,148.56L350.05,147.97L350.20,147.39L350.36,146.80L350.51,146.21L350.66,145.63L350.81,145.04L350.97,144.45L351.12,143.86L351.28,143.27L351.43,142.68L351.59,142.09L351.75,141.50L351.91,140.91L352.07,140.32L352.22,139.73L352.39,139.14L352.55,138.55L352.71,137.95L352.87,137.36L353.03,136.77L353.19,136.17L353.36,135.58L353.52,134.99L353.69,134.39L353.85,133.80L354.02,133.21L354.19,132.61L354.36,132.02L354.53,131.43L354.70,130.84L354.87,130.25L355.05,129.66L355.23,129.07L355.41,128.49L355.60,127.91L355.79,127.33L355.98,126.75L356.17,126.17L356.37,125.60L356.58,125.03L356.78,124.46L356.99,123.90L357.21,123.34L357.43,122.78L357.66,122.23L357.89,121.68L358.13,121.14L358.37,120.60L358.62,120.06L358.88,119.53L359.14,119.01L359.41,118.49L359.69,117.98L359.97,117.47L360.26,116.97L360.56,116.47L360.87,115.98L361.18,115.50L361.50,115.02L361.84,114.55L362.18,114.09L362.52,113.63L362.88,113.19L363.25,112.75L363.63,112.31L364.01,111.89L364.41,111.48L364.82,111.07L365.23,110.67L365.66,110.28L366.09,109.89L366.53,109.52L366.99,109.15L367.44,108.79L367.91,108.43L368.39,108.09L368.87,107.75L369.36,107.41L369.85,107.09L370.36,106.77L370.87,106.46L371.38,106.15L371.90,105.85L372.43,105.56L372.96,105.27L373.50,104.99L374.04,104.71L374.59,104.45L375.14,104.18L375.69,103.92L376.25,103.67L376.82,103.43L377.38,103.18L377.95,102.95L378.52,102.72L379.10,102.49L379.67,102.27L380.25,102.05L380.83,101.84L381.42,101.63L382.00,101.43L382.58,101.23L383.17,101.04L383.76,100.85L384.34,100.66L384.93,100.48L385.51,100.30L386.10,100.12L386.69,99.95L387.28,99.78L387.86,99.62L388.45,99.46L389.04,99.30L389.63,99.15L390.21,99.00L390.80,98.85L391.39,98.71L391.98,98.57L392.57,98.43L393.16,98.30L393.75,98.17L394.33,98.04L394.92,97.92L395.51,97.80L396.10,97.68L396.69,97.56L397.28,97.45L397.87,97.34L398.46,97.24L399.05,97.13L399.65,97.03L400.24,96.94L400.83,96.84L401.42,96.75L402.01,96.66L402.60,96.57L403.19,96.49L403.78,96.41L404.38,96.33L404.97,96.25L405.56,96.17L406.15,96.10L406.75,96.03L407.34,95.96L407.93,95.90L408.52,95.83L409.12,95.77L409.71,95.71L410.30,95.65L410.90,95.60L411.49,95.55L412.08,95.49L412.68,95.44L413.27,95.40L413.87,95.35L414.46,95.30L415.06,95.26L415.65,95.22L416.24,95.18L416.84,95.14L417.43,95.10L418.03,95.07L418.62,95.03L419.22,95.00L419.82,94.97L420.41,94.94L421.01,94.91L421.60,94.88L422.20,94.85L422.79,94.83L423.39,94.80L423.99,94.78L424.58,94.76L425.18,94.73L425.78,94.71L426.37,94.69L426.97,94.67L427.57,94.66L428.16,94.64L428.76,94.62L429.36,94.60L429.95,94.59L430.55,94.57L431.15,94.56L431.75,94.54L432.35,94.53L432.94,94.51L433.54,94.50L434.14,94.48L434.74,94.47L435.33,94.46L435.93,94.45L436.53,94.43L437.13,94.42L437.73,94.41L438.33,94.39L438.93,94.38L439.52,94.37L440.12,94.36L440.72,94.35L441.32,94.33L441.92,94.32L442.52,94.31L443.12,94.30L443.72,94.29L444.32,94.28L444.92,94.26L445.52,94.25L446.12,94.24L446.72,94.23L447.32,94.22L447.92,94.21L448.52,94.20L449.11,94.19L449.71,94.18L450.31,94.17L450.92,94.16L451.52,94.15L452.12,94.14L452.72,94.13L453.32,94.13L453.92,94.12L454.52,94.11L455.12,94.10L455.72,94.09L456.32,94.08L456.92,94.08L457.52,94.07L458.12,94.06L458.72,94.05L459.32,94.05L459.92,94.04L460.52,94.03L461.13,94.03L461.73,94.02L462.33,94.01L462.93,94.01L463.53,94.00L464.13,93.99L464.73,93.99L465.33,93.98L465.93,93.98L466.54,93.97L467.14,93.97L467.74,93.96L468.34,93.96L468.94,93.96L469.54,93.95L470.14,93.95L470.75,93.94L471.35,93.94L471.95,93.94L472.55,93.94L473.15,93.93L473.75,93.93L474.36,93.93L474.96,93.93L475.56,93.92L476.16,93.92L476.76,93.92L477.36,93.92L477.97,93.92L478.57,93.92L479.17,93.92L479.77,93.92L480.37,93.92L480.97,93.92L481.58,93.92L482.18,93.92L482.78,93.92L483.38,93.92L483.98,93.92L484.58,93.92L485.19,93.92L485.79,93.93L486.39,93.93L486.99,93.93L487.59,93.93L488.19,93.94L488.80,93.94L489.40,93.94L490.00,93.95L490.60,93.95L491.20,93.96L491.80,93.96L492.41,93.96L493.01,93.97L493.61,93.98L494.21,93.98L494.81,93.99L495.41,93.99L496.02,94.00L496.62,94.01L497.22,94.01L497.82,94.02L498.42,94.03L499.02,94.03L499.62,94.04L500.23,94.05L500.83,94.06L501.43,94.07L502.03,94.08L502.63,94.09L503.23,94.10L503.83,94.11L504.43,94.12L505.03,94.13L505.64,94.14L506.24,94.15L506.84,94.16L507.44,94.17L508.04,94.18L508.64,94.20L509.24,94.21L509.84,94.22L510.44,94.23L511.04,94.25L511.64,94.26L512.24,94.27L512.84,94.29L513.44,94.30L514.04,94.32L514.64,94.33L515.24,94.35L515.84,94.37L516.44,94.38L517.04,94.40L517.64,94.41L518.24,94.43L518.84,94.45L519.44,94.47L520.04,94.49L520.64,94.50L521.24,94.52L521.84,94.54L522.44,94.56L523.04,94.58L523.64,94.60L524.24,94.62L524.84,94.64L525.44,94.66L526.03,94.68L526.63,94.71L527.23,94.73L527.83,94.75L528.43,94.77L529.03,94.80L529.63,94.82L530.22,94.84L530.82,94.87L531.42,94.89L532.02,94.92L532.62,94.94L533.21,94.97L533.81,94.99L534.41,95.02L535.01,95.05L535.60,95.07L536.20,95.10L536.80,95.13L537.40,95.16L537.99,95.18L538.59,95.21L539.19,95.24L539.78,95.27L540.38,95.30L540.98,95.33L541.57,95.36L542.17,95.39L542.30,95.40" stroke="#990000"/>
<path d="M324.00,149.00L324.04,149.51L324.08,150.05L324.12,150.60L324.16,151.17L324.20,151.76L324.25,152.36L324.31,152.97L324.38,153.59L324.46,154.21L324.56,154.84L324.67,155.47L324.81,156.09L324.96,156.71L325.14,157.32L325.35,157.91L325.59,158.50L325.86,159.07L326.16,159.62L326.49,160.15L326.85,160.66L327.23,161.14L327.65,161.59L328.09,162.01L328.55,162.40L329.04,162.75L329.56,163.06L330.09,163.33L330.65,163.56L331.22,163.74L331.82,163.87L332.42,163.95L333.04,163.99L333.66,163.99L334.29,163.94L334.91,163.86L335.53,163.73L336.13,163.57L336.72,163.38L337.29,163.15L337.83,162.89L338.35,162.60L338.83,162.28L339.29,161.93L339.71,161.56L340.10,161.17L340.47,160.75L340.81,160.31L341.13,159.85L341.43,159.38L341.71,158.89L341.97,158.38L342.21,157.87L342.44,157.34L342.67,156.80L342.88,156.26L343.08,155.71L343.27,155.16L343.47,154.60L343.65,154.04L343.84,153.48L344.02,152.92L344.20,152.35L344.37,151.78L344.54,151.21L344.71,150.64L344.88,150.07L345.04,149.49L345.20,148.91L345.35,148.33L345.51,147.75L345.66,147.17L345.81,146.59L345.96,146.00L346.10,145.42L346.24,144.83L346.38,144.24L346.52,143.65L346.65,143.06L346.79,142.47L346.92,141.88L347.05,141.29L347.18,140.69L347.31,140.10L347.43,139.50L347.56,138.91L347.68,138.31L347.80,137.72L347.92,137.12L348.04,136.52L348.16,135.92L348.28,135.33L348.40,134.73L348.51,134.13L348.63,133.53L348.75,132.94L348.86,132.34L348.98,131.74L349.09,131.15L349.21,130.55L349.32,129.96L349.44,129.36L349.56,128.77L349.67,128.17L349.79,127.58L349.90,126.99L350.02,126.39L350.14,125.80L350.26,125.21L350.38,124.62L350.50,124.03L350.62,123.45L350.74,122.86L350.87,122.27L350.99,121.68L351.12,121.10L351.25,120.51L351.38,119.93L351.51,119.35L351.64,118.77L351.78,118.18L351.92,117.60L352.05,117.02L352.20,116.45L352.34,115.87L352.49,115.29L352.63,114.72L352.79,114.14L352.94,113.57L353.10,112.99L353.26,112.42L353.42,111.85L353.58,111.28L353.75,110.71L353.92,110.15L354.10,109.58L354.28,109.02L354.46,108.45L354.64,107.89L354.83,107.33L355.02,106.77L355.22,106.21L355.42,105.65L355.63,105.09L355.83,104.54L356.05,103.99L356.26,103.43L356.49,102.88L356.71,102.33L356.94,101.78L357.18,101.24L357.42,100.69L357.66,100.15L357.91,99.60L358.17,99.06L358.43,98.52L358.70,97.98L358.97,97.44L359.24,96.91L359.52,96.37L359.81,95.84L360.11,95.31L360.40,94.78L360.71,94.26L361.02,93.73L361.34,93.21L361.66,92.69L361.99,92.18L362.32,91.67L362.66,91.16L363.01,90.66L363.36,90.17L363.72,89.67L364.09,89.19L364.46,88.71L364.84,88.24L365.23,87.77L365.62,87.31L366.02,86.86L366.43,86.41L366.84,85.98L367.26,85.55L367.68,85.13L368.12,84.72L368.56,84.32L369.00,83.92L369.46,83.54L369.92,83.17L370.39,82.80L370.86,82.45L371.34,82.10L371.83,81.76L372.32,81.43L372.81,81.10L373.31,80.78L373.82,80.47L374.33,80.17L374.84,79.86L375.36,79.57L375.88,79.28L376.40,78.99L376.93,78.71L377.45,78.43L377.99,78.15L378.52,77.88L379.05,77.61L379.59,77.34L380.13,77.07L380.66,76.81L381.20,76.55L381.75,76.29L382.29,76.03L382.84,75.78L383.38,75.53L383.93,75.28L384.48,75.03L385.03,74.79L385.58,74.55L386.14,74.32L386.69,74.09L387.25,73.86L387.81,73.63L388.37,73.41L388.93,73.19L389.49,72.97L390.05,72.76L390.61,72.55L391.18,72.34L391.75,72.14L392.31,71.94L392.88,71.75L393.45,71.55L394.02,71.37L394.59,71.18L395.17,71.00L395.74,70.83L396.31,70.66L396.89,70.49L397.47,70.32L398.04,70.16L398.62,70.01L399.20,69.85L399.78,69.70L400.36,69.56L400.94,69.41L401.53,69.27L402.11,69.13L402.69,69.00L403.28,68.87L403.86,68.74L404.45,68.62L405.04,68.49L405.62,68.37L406.21,68.26L406.80,68.14L407.39,68.03L407.98,67.92L408.57,67.81L409.16,67.71L409.75,67.60L410.34,67.50L410.93,67.40L411.52,67.31L412.12,67.21L412.71,67.12L413.30,67.03L413.90,66.94L414.49,66.85L415.08,66.76L415.68,66.68L416.27,66.59L416.87,66.51L417.46,66.43L418.06,66.35L418.65,66.27L419.25,66.19L419.84,66.11L420.44,66.04L421.04,65.96L421.63,65.89L422.23,65.81L422.82,65.74L423.42,65.67L424.02,65.60L424.61,65.53L425.21,65.46L425.80,65.39L426.40,65.32L427.00,65.25L427.59,65.19L428.19,65.12L428.79,65.06L429.38,64.99L429.98,64.93L430.58,64.87L431.17,64.80L431.77,64.74L432.37,64.68L432.96,64.62L433.56,64.56L434.16,64.51L434.75,64.45L435.35,64.39L435.95,64.34L436.55,64.28L437.14,64.23L437.74,64.17L438.34,64.12L438.93,64.07L439.53,64.01L440.13,63.96L440.73,63.91L441.33,63.86L441.92,63.81L442.52,63.77L443.12,63.72L443.72,63.67L444.31,63.62L444.91,63.58L445.51,63.53L446.11,63.49L446.71,63.44L447.30,63.40L447.90,63.36L448.50,63.32L449.10,63.28L449.70,63.23L450.30,63.19L450.89,63.15L451.49,63.12L452.09,63.08L452.69,63.04L453.29,63.00L453.89,62.96L454.49,62.93L455.08,62.89L455.68,62.86L456.28,62.82L456.88,62.79L457.48,62.76L458.08,62.72L458.68,62.69L459.28,62.66L459.88,62.63L460.47,62.60L461.07,62.57L461.67,62.54L462.27,62.51L462.87,62.48L463.47,62.45L464.07,62.42L464.67,62.39L465.27,62.37L465.87,62.34L466.47,62.31L467.07,62.29L467.66,62.26L468.26,62.24L468.86,62.21L469.46,62.19L470.06,62.17L470.66,62.14L471.26,62.12L471.86,62.10L472.46,62.08L473.06,62.06L473.66,62.04L474.26,62.02L474.86,62.00L475.46,61.98L476.06,61.96L476.66,61.94L477.26,61.92L477.86,61.90L478.46,61.88L479.06,61.87L479.66,61.85L480.26,61.83L480.86,61.82L481.46,61.80L482.06,61.78L482.66,61.77L483.26,61.75L483.86,61.74L484.46,61.72L485.06,61.71L485.66,61.69L486.26,61.68L486.86,61.67L487.46,61.65L488.06,61.64L488.66,61.63L489.26,61.62L489.86,61.61L490.46,61.59L491.06,61.58L491.66,61.57L492.26,61.56L492.86,61.55L493.46,61.54L494.06,61.53L494.66,61.52L495.26,61.51L495.86,61.50L496.46,61.49L497.06,61.48L497.66,61.47L498.26,61.46L498.86,61.45L499.46,61.45L500.06,61.44L500.66,61.43L501.26,61.42L501.86,61.41L502.46,61.41L503.06,61.40L503.66,61.39L504.26,61.38L504.86,61.38L505.46,61.37L506.07,61.36L506.67,61.36L507.27,61.35L507.87,61.34L508.47,61.34L509.07,61.33L509.67,61.33L510.27,61.32L510.87,61.31L511.47,61.31L512.07,61.30L512.67,61.30L513.27,61.29L513.87,61.29L514.47,61.28L515.07,61.27L515.67,61.27L516.27,61.26L516.87,61.26L517.47,61.25L518.07,61.25L518.67,61.24L519.27,61.24L519.87,61.23L520.47,61.23L521.07,61.22L521.67,61.22L522.27,61.21L522.87,61.21L523.47,61.20L524.07,61.20L524.67,61.19L525.27,61.19L525.87,61.18L526.47,61.18L527.07,61.17L527.67,61.16L528.27,61.16L528.87,61.15L529.47,61.15L530.07,61.14L530.67,61.14L531.27,61.13L531.87,61.12L532.47,61.12L533.07,61.11L533.67,61.11L534.27,61.10L534.87,61.09L535.47,61.09L536.07,61.08L536.66,61.07L537.26,61.07L537.86,61.06L538.46,61.05L539.06,61.04L539.66,61.04L540.26,61.03L540.86,61.02L541.46,61.01L542.06,61.00L542.30,61.00" stroke="#00f0f8"/>
<path d="M324.00,135.50L324.10,136.03L324.18,136.56L324.24,137.11L324.29,137.67L324.33,138.24L324.37,138.82L324.39,139.41L324.41,140.01L324.43,140.62L324.44,141.23L324.45,141.85L324.47,142.47L324.48,143.10L324.51,143.73L324.53,144.37L324.57,145.01L324.62,145.64L324.68,146.28L324.75,146.92L324.84,147.56L324.95,148.19L325.07,148.82L325.22,149.45L325.38,150.07L325.57,150.68L325.77,151.28L325.99,151.87L326.24,152.44L326.51,153.00L326.80,153.53L327.11,154.04L327.44,154.53L327.80,155.00L328.18,155.43L328.59,155.84L329.02,156.21L329.47,156.55L329.95,156.85L330.45,157.11L330.97,157.34L331.51,157.53L332.06,157.68L332.63,157.79L333.20,157.86L333.77,157.89L334.35,157.88L334.92,157.83L335.48,157.74L336.04,157.61L336.58,157.44L337.10,157.23L337.61,156.97L338.09,156.67L338.56,156.34L339.00,155.97L339.42,155.56L339.82,155.13L340.21,154.67L340.57,154.19L340.91,153.68L341.23,153.16L341.54,152.62L341.82,152.06L342.08,151.50L342.33,150.92L342.56,150.35L342.77,149.76L342.96,149.18L343.13,148.60L343.29,148.01L343.44,147.43L343.57,146.84L343.68,146.25L343.79,145.67L343.89,145.08L343.97,144.49L344.05,143.89L344.12,143.30L344.18,142.71L344.24,142.12L344.29,141.52L344.34,140.93L344.39,140.33L344.43,139.74L344.48,139.14L344.53,138.54L344.57,137.94L344.62,137.35L344.68,136.75L344.74,136.15L344.80,135.55L344.87,134.95L344.95,134.35L345.03,133.75L345.12,133.16L345.21,132.56L345.30,131.96L345.40,131.36L345.50,130.76L345.61,130.16L345.71,129.56L345.82,128.96L345.93,128.36L346.05,127.77L346.16,127.17L346.28,126.57L346.40,125.97L346.51,125.38L346.63,124.78L346.75,124.19L346.87,123.59L346.98,123.00L347.10,122.40L347.22,121.81L347.33,121.22L347.45,120.63L347.56,120.04L347.67,119.45L347.79,118.86L347.90,118.27L348.02,117.68L348.13,117.09L348.25,116.50L348.36,115.91L348.47,115.33L348.59,114.74L348.70,114.15L348.82,113.57L348.94,112.98L349.05,112.40L349.17,111.81L349.29,111.23L349.41,110.65L349.52,110.06L349.64,109.48L349.76,108.90L349.89,108.32L350.01,107.74L350.13,107.15L350.26,106.57L350.38,105.99L350.51,105.41L350.64,104.83L350.76,104.26L350.89,103.68L351.03,103.10L351.16,102.52L351.30,101.94L351.43,101.36L351.57,100.79L351.71,100.21L351.85,99.63L351.99,99.06L352.14,98.48L352.29,97.90L352.44,97.33L352.59,96.75L352.74,96.18L352.90,95.60L353.05,95.03L353.21,94.45L353.38,93.88L353.54,93.30L353.71,92.73L353.88,92.16L354.05,91.58L354.23,91.01L354.40,90.43L354.58,89.86L354.77,89.29L354.95,88.71L355.14,88.14L355.33,87.57L355.53,86.99L355.73,86.42L355.93,85.85L356.13,85.28L356.34,84.70L356.55,84.13L356.76,83.56L356.98,82.98L357.20,82.41L357.43,81.84L357.66,81.28L357.90,80.71L358.14,80.15L358.39,79.59L358.64,79.03L358.90,78.48L359.17,77.93L359.44,77.39L359.72,76.85L360.01,76.32L360.31,75.80L360.62,75.28L360.93,74.78L361.26,74.28L361.59,73.78L361.93,73.30L362.29,72.83L362.65,72.36L363.03,71.91L363.41,71.47L363.81,71.03L364.22,70.61L364.64,70.20L365.06,69.79L365.50,69.40L365.94,69.01L366.39,68.63L366.85,68.26L367.32,67.90L367.79,67.54L368.27,67.19L368.76,66.85L369.25,66.52L369.75,66.19L370.25,65.86L370.76,65.54L371.27,65.23L371.78,64.92L372.30,64.61L372.82,64.31L373.34,64.01L373.87,63.72L374.39,63.43L374.92,63.14L375.45,62.85L375.98,62.57L376.51,62.29L377.04,62.01L377.57,61.73L378.11,61.46L378.65,61.19L379.18,60.93L379.72,60.66L380.26,60.40L380.81,60.14L381.35,59.89L381.89,59.63L382.44,59.38L382.99,59.13L383.53,58.89L384.08,58.65L384.63,58.41L385.19,58.17L385.74,57.93L386.29,57.70L386.85,57.47L387.40,57.24L387.96,57.01L388.52,56.79L389.07,56.57L389.63,56.35L390.19,56.14L390.76,55.92L391.32,55.71L391.88,55.50L392.45,55.29L393.01,55.09L393.58,54.89L394.14,54.69L394.71,54.49L395.28,54.29L395.85,54.10L396.42,53.91L396.99,53.72L397.56,53.53L398.13,53.34L398.71,53.16L399.28,52.98L399.85,52.80L400.43,52.62L401.00,52.45L401.58,52.28L402.16,52.10L402.73,51.93L403.31,51.77L403.89,51.60L404.47,51.44L405.05,51.28L405.63,51.12L406.21,50.96L406.79,50.80L407.37,50.65L407.95,50.49L408.53,50.34L409.12,50.19L409.70,50.04L410.28,49.90L410.86,49.75L411.45,49.61L412.03,49.47L412.61,49.33L413.20,49.19L413.78,49.06L414.37,48.92L414.95,48.79L415.54,48.66L416.12,48.53L416.71,48.40L417.30,48.27L417.88,48.14L418.47,48.02L419.06,47.90L419.64,47.77L420.23,47.66L420.82,47.54L421.40,47.42L421.99,47.30L422.58,47.19L423.17,47.08L423.76,46.97L424.34,46.86L424.93,46.75L425.52,46.64L426.11,46.53L426.70,46.43L427.29,46.33L427.88,46.23L428.47,46.12L429.06,46.03L429.65,45.93L430.24,45.83L430.83,45.74L431.42,45.64L432.01,45.55L432.61,45.46L433.20,45.37L433.79,45.28L434.38,45.19L434.97,45.10L435.56,45.02L436.16,44.93L436.75,44.85L437.34,44.77L437.94,44.69L438.53,44.61L439.12,44.53L439.71,44.45L440.31,44.38L440.90,44.30L441.50,44.23L442.09,44.15L442.68,44.08L443.28,44.01L443.87,43.94L444.47,43.87L445.06,43.80L445.66,43.74L446.25,43.67L446.85,43.61L447.44,43.54L448.04,43.48L448.63,43.42L449.23,43.36L449.83,43.30L450.42,43.24L451.02,43.18L451.61,43.12L452.21,43.07L452.81,43.01L453.40,42.96L454.00,42.90L454.60,42.85L455.20,42.80L455.79,42.75L456.39,42.70L456.99,42.65L457.59,42.60L458.18,42.55L458.78,42.51L459.38,42.46L459.98,42.42L460.57,42.37L461.17,42.33L461.77,42.28L462.37,42.24L462.97,42.20L463.57,42.16L464.16,42.12L464.76,42.08L465.36,42.04L465.96,42.00L466.56,41.97L467.16,41.93L467.76,41.89L468.36,41.86L468.96,41.82L469.56,41.79L470.16,41.75L470.76,41.72L471.36,41.69L471.96,41.66L472.56,41.63L473.16,41.60L473.76,41.57L474.36,41.54L474.96,41.51L475.56,41.48L476.16,41.45L476.76,41.42L477.36,41.39L477.96,41.37L478.56,41.34L479.16,41.32L479.76,41.29L480.36,41.27L480.96,41.24L481.56,41.22L482.16,41.19L482.76,41.17L483.36,41.15L483.96,41.13L484.56,41.10L485.16,41.08L485.77,41.06L486.37,41.04L486.97,41.02L487.57,41.00L488.17,40.98L488.77,40.96L489.37,40.94L489.97,40.92L490.57,40.90L491.17,40.88L491.78,40.86L492.38,40.84L492.98,40.83L493.58,40.81L494.18,40.79L494.78,40.77L495.38,40.75L495.98,40.74L496.59,40.72L497.19,40.70L497.79,40.69L498.39,40.67L498.99,40.65L499.59,40.64L500.19,40.62L500.79,40.60L501.39,40.59L502.00,40.57L502.60,40.56L503.20,40.54L503.80,40.52L504.40,40.51L505.00,40.49L505.60,40.48L506.20,40.46L506.80,40.44L507.41,40.43L508.01,40.41L508.61,40.40L509.21,40.38L509.81,40.36L510.41,40.35L511.01,40.33L511.61,40.31L512.21,40.30L512.81,40.28L513.41,40.26L514.01,40.25L514.61,40.23L515.21,40.21L515.81,40.20L516.41,40.18L517.01,40.16L517.61,40.14L518.21,40.12L518.81,40.11L519.41,40.09L520.01,40.07L520.61,40.05L521.21,40.03L521.81,40.01L522.41,39.99L523.01,39.97L523.61,39.95L524.21,39.93L524.81,39.91L525.41,39.89L526.01,39.86L526.61,39.84L527.21,39.82L527.81,39.80L528.41,39.77L529.00,39.75L529.60,39.72L530.20,39.70L530.80,39.68L531.40,39.65L532.00,39.62L532.59,39.60L533.19,39.57L533.79,39.54L534.39,39.52L534.99,39.49L535.58,39.46L536.18,39.43L536.78,39.40L537.38,39.37L537.97,39.34L538.57,39.31L539.17,39.28L539.76,39.24L540.36,39.21L540.96,39.18L541.55,39.14L542.15,39.11L542.30,39.10" stroke="#ff0090"/>
<path d="M324.00,141.00L323.94,141.66L323.92,142.33L323.92,142.99L323.95,143.64L324.02,144.28L324.11,144.91L324.23,145.53L324.39,146.13L324.57,146.72L324.78,147.29L325.02,147.84L325.29,148.38L325.59,148.88L325.92,149.37L326.28,149.83L326.67,150.26L327.09,150.66L327.53,151.03L328.00,151.37L328.49,151.67L329.00,151.94L329.53,152.17L330.07,152.36L330.62,152.51L331.18,152.62L331.74,152.68L332.31,152.70L332.88,152.68L333.45,152.61L334.02,152.50L334.57,152.34L335.11,152.15L335.64,151.93L336.16,151.67L336.65,151.37L337.12,151.04L337.56,150.69L337.98,150.30L338.36,149.89L338.72,149.45L339.05,148.99L339.36,148.50L339.64,148.00L339.90,147.48L340.14,146.93L340.36,146.38L340.57,145.81L340.76,145.22L340.93,144.63L341.09,144.03L341.24,143.42L341.38,142.80L341.52,142.18L341.64,141.55L341.76,140.93L341.88,140.30L342.00,139.68L342.11,139.06L342.23,138.44L342.34,137.83L342.45,137.22L342.56,136.61L342.67,136.00L342.78,135.39L342.88,134.79L342.99,134.18L343.09,133.58L343.20,132.98L343.30,132.39L343.40,131.79L343.50,131.20L343.60,130.60L343.70,130.01L343.80,129.42L343.90,128.83L343.99,128.24L344.09,127.66L344.19,127.07L344.28,126.49L344.38,125.90L344.47,125.32L344.57,124.73L344.66,124.15L344.76,123.57L344.85,122.99L344.94,122.41L345.04,121.82L345.13,121.24L345.22,120.66L345.32,120.08L345.41,119.50L345.51,118.92L345.60,118.34L345.69,117.75L345.79,117.17L345.88,116.59L345.98,116.00L346.07,115.42L346.17,114.83L346.26,114.25L346.36,113.66L346.46,113.08L346.55,112.49L346.65,111.90L346.75,111.31L346.85,110.72L346.95,110.13L347.05,109.55L347.15,108.96L347.25,108.37L347.36,107.77L347.46,107.18L347.57,106.59L347.67,106.00L347.78,105.41L347.89,104.82L348.00,104.23L348.11,103.64L348.22,103.05L348.34,102.45L348.45,101.86L348.57,101.27L348.69,100.68L348.81,100.09L348.93,99.50L349.05,98.91L349.17,98.31L349.30,97.72L349.43,97.13L349.56,96.54L349.69,95.95L349.82,95.36L349.95,94.78L350.09,94.19L350.23,93.60L350.37,93.01L350.51,92.42L350.66,91.84L350.80,91.25L350.95,90.67L351.10,90.08L351.26,89.50L351.41,88.91L351.57,88.33L351.73,87.75L351.89,87.17L352.06,86.58L352.23,86.00L352.40,85.43L352.57,84.85L352.75,84.27L352.92,83.69L353.10,83.12L353.29,82.54L353.48,81.97L353.66,81.40L353.86,80.83L354.05,80.26L354.25,79.69L354.45,79.12L354.66,78.56L354.87,77.99L355.08,77.43L355.30,76.87L355.52,76.31L355.74,75.75L355.97,75.20L356.21,74.65L356.45,74.10L356.70,73.56L356.95,73.02L357.21,72.48L357.47,71.95L357.75,71.42L358.03,70.90L358.31,70.38L358.61,69.87L358.91,69.36L359.22,68.85L359.54,68.36L359.86,67.86L360.20,67.38L360.54,66.89L360.89,66.42L361.26,65.95L361.63,65.49L362.01,65.04L362.40,64.59L362.81,64.15L363.22,63.71L363.65,63.29L364.08,62.87L364.53,62.46L364.98,62.06L365.44,61.66L365.91,61.28L366.39,60.89L366.87,60.52L367.37,60.15L367.86,59.79L368.37,59.44L368.87,59.09L369.39,58.75L369.90,58.42L370.42,58.09L370.95,57.77L371.47,57.46L372.00,57.15L372.53,56.85L373.06,56.55L373.59,56.26L374.13,55.98L374.66,55.70L375.20,55.43L375.73,55.16L376.27,54.90L376.81,54.64L377.35,54.38L377.89,54.13L378.43,53.89L378.98,53.65L379.52,53.41L380.07,53.18L380.61,52.95L381.16,52.72L381.71,52.50L382.26,52.28L382.81,52.07L383.36,51.85L383.91,51.64L384.46,51.43L385.02,51.22L385.57,51.02L386.13,50.81L386.69,50.61L387.24,50.41L387.80,50.21L388.36,50.02L388.92,49.82L389.48,49.62L390.04,49.43L390.60,49.23L391.17,49.04L391.73,48.84L392.30,48.65L392.86,48.45L393.43,48.26L393.99,48.06L394.56,47.87L395.13,47.68L395.70,47.49L396.27,47.29L396.84,47.10L397.41,46.91L397.98,46.72L398.55,46.53L399.12,46.35L399.69,46.16L400.27,45.97L400.84,45.79L401.41,45.60L401.99,45.42L402.56,45.23L403.14,45.05L403.71,44.87L404.29,44.69L404.87,44.51L405.45,44.33L406.02,44.15L406.60,43.98L407.18,43.80L407.76,43.63L408.34,43.46L408.92,43.29L409.50,43.12L410.08,42.95L410.66,42.78L411.24,42.62L411.82,42.45L412.40,42.29L412.98,42.13L413.56,41.97L414.14,41.81L414.72,41.65L415.31,41.50L415.89,41.34L416.47,41.19L417.05,41.04L417.64,40.89L418.22,40.74L418.80,40.60L419.39,40.45L419.97,40.31L420.55,40.17L421.14,40.02L421.72,39.88L422.31,39.75L422.89,39.61L423.48,39.47L424.06,39.34L424.65,39.21L425.23,39.08L425.82,38.94L426.40,38.82L426.99,38.69L427.57,38.56L428.16,38.44L428.75,38.31L429.33,38.19L429.92,38.07L430.51,37.95L431.09,37.83L431.68,37.71L432.27,37.59L432.86,37.47L433.45,37.36L434.03,37.25L434.62,37.13L435.21,37.02L435.80,36.91L436.39,36.80L436.98,36.69L437.56,36.59L438.15,36.48L438.74,36.37L439.33,36.27L439.92,36.17L440.51,36.06L441.10,35.96L441.69,35.86L442.28,35.76L442.87,35.66L443.46,35.57L444.05,35.47L444.64,35.37L445.24,35.28L445.83,35.19L446.42,35.09L447.01,35.00L447.60,34.91L448.19,34.82L448.78,34.73L449.38,34.64L449.97,34.55L450.56,34.47L451.15,34.38L451.75,34.29L452.34,34.21L452.93,34.12L453.52,34.04L454.12,33.96L454.71,33.88L455.30,33.79L455.90,33.71L456.49,33.63L457.08,33.55L457.68,33.48L458.27,33.40L458.87,33.32L459.46,33.24L460.05,33.17L460.65,33.09L461.24,33.02L461.84,32.94L462.43,32.87L463.03,32.80L463.62,32.72L464.22,32.65L464.81,32.58L465.41,32.51L466.00,32.44L466.60,32.37L467.19,32.30L467.79,32.23L468.38,32.16L468.98,32.09L469.58,32.02L470.17,31.95L470.77,31.89L471.36,31.82L471.96,31.75L472.56,31.69L473.15,31.62L473.75,31.56L474.35,31.49L474.94,31.43L475.54,31.36L476.14,31.30L476.73,31.24L477.33,31.18L477.93,31.11L478.52,31.05L479.12,30.99L479.72,30.93L480.31,30.87L480.91,30.81L481.51,30.75L482.11,30.69L482.70,30.63L483.30,30.57L483.90,30.51L484.50,30.45L485.10,30.40L485.69,30.34L486.29,30.28L486.89,30.23L487.49,30.17L488.09,30.11L488.68,30.06L489.28,30.00L489.88,29.95L490.48,29.90L491.08,29.84L491.68,29.79L492.27,29.74L492.87,29.68L493.47,29.63L494.07,29.58L494.67,29.53L495.27,29.48L495.87,29.43L496.47,29.38L497.06,29.33L497.66,29.28L498.26,29.23L498.86,29.18L499.46,29.13L500.06,29.09L500.66,29.04L501.26,28.99L501.86,28.95L502.45,28.90L503.05,28.85L503.65,28.81L504.25,28.76L504.85,28.72L505.45,28.67L506.05,28.63L506.65,28.59L507.25,28.54L507.85,28.50L508.45,28.46L509.05,28.42L509.65,28.38L510.24,28.34L510.84,28.29L511.44,28.25L512.04,28.21L512.64,28.18L513.24,28.14L513.84,28.10L514.44,28.06L515.04,28.02L515.64,27.98L516.24,27.95L516.84,27.91L517.44,27.87L518.04,27.84L518.64,27.80L519.23,27.77L519.83,27.73L520.43,27.70L521.03,27.66L521.63,27.63L522.23,27.60L522.83,27.56L523.43,27.53L524.03,27.50L524.63,27.47L525.23,27.44L525.83,27.40L526.43,27.37L527.02,27.34L527.62,27.31L528.22,27.28L528.82,27.25L529.42,27.23L530.02,27.20L530.62,27.17L531.22,27.14L531.82,27.11L532.41,27.09L533.01,27.06L533.61,27.04L534.21,27.01L534.81,26.98L535.41,26.96L536.01,26.94L536.61,26.91L537.20,26.89L537.80,26.86L538.40,26.84L539.00,26.82L539.60,26.80L540.19,26.77L540.79,26.75L541.39,26.73L541.99,26.71L542.30,26.70" stroke="#9000ff"/>
<path d="M323.50,198.90L323.50,143.00L323.50,143.00L323.63,143.51L323.74,144.04L323.83,144.58L323.91,145.13L323.97,145.70L324.03,146.27L324.07,146.86L324.10,147.45L324.12,148.06L324.13,148.67L324.14,149.28L324.14,149.91L324.14,150.54L324.14,151.17L324.14,151.80L324.13,152.44L324.13,153.08L324.13,153.73L324.13,154.37L324.14,155.01L324.15,155.65L324.17,156.28L324.20,156.92L324.24,157.55L324.30,158.17L324.36,158.79L324.44,159.40L324.53,160.01L324.64,160.61L324.77,161.20L324.91,161.77L325.08,162.34L325.26,162.90L325.47,163.44L325.71,163.97L325.97,164.49L326.25,164.99L326.56,165.47L326.89,165.93L327.24,166.37L327.63,166.78L328.04,167.16L328.47,167.51L328.93,167.84L329.41,168.12L329.92,168.38L330.46,168.59L331.02,168.77L331.60,168.90L332.20,169.00L332.81,169.06L333.43,169.08L334.05,169.07L334.68,169.02L335.31,168.93L335.92,168.81L336.53,168.65L337.13,168.46L337.71,168.23L338.27,167.97L338.81,167.68L339.33,167.35L339.82,167.00L340.30,166.62L340.75,166.21L341.18,165.78L341.60,165.34L341.99,164.87L342.37,164.39L342.72,163.89L343.06,163.38L343.39,162.86L343.69,162.33L343.98,161.80L344.26,161.26L344.52,160.73L344.76,160.19L344.99,159.64L345.21,159.10L345.42,158.56L345.62,158.01L345.82,157.46L346.00,156.91L346.18,156.36L346.35,155.81L346.52,155.26L346.68,154.70L346.85,154.15L347.01,153.59L347.17,153.03L347.34,152.47L347.50,151.91L347.67,151.35L347.85,150.79L348.03,150.23L348.21,149.66L348.40,149.10L348.59,148.53L348.79,147.96L348.99,147.39L349.19,146.82L349.39,146.26L349.60,145.68L349.81,145.11L350.01,144.54L350.22,143.97L350.43,143.40L350.64,142.82L350.85,142.25L351.06,141.67L351.26,141.10L351.47,140.52L351.67,139.95L351.87,139.37L352.07,138.79L352.26,138.22L352.45,137.64L352.65,137.06L352.83,136.48L353.02,135.90L353.21,135.33L353.39,134.75L353.57,134.17L353.75,133.59L353.93,133.01L354.11,132.43L354.29,131.85L354.46,131.28L354.63,130.70L354.81,130.12L354.98,129.54L355.15,128.96L355.32,128.39L355.49,127.81L355.66,127.23L355.82,126.65L355.99,126.08L356.16,125.50L356.32,124.93L356.49,124.35L356.66,123.78L356.82,123.20L356.99,122.63L357.15,122.06L357.32,121.49L357.49,120.91L357.65,120.34L357.82,119.77L357.99,119.21L358.15,118.64L358.32,118.07L358.49,117.50L358.66,116.94L358.83,116.37L359.00,115.81L359.18,115.25L359.35,114.68L359.53,114.12L359.70,113.56L359.88,113.01L360.06,112.45L360.24,111.89L360.43,111.33L360.62,110.78L360.81,110.22L361.00,109.66L361.19,109.11L361.39,108.56L361.59,108.00L361.80,107.45L362.01,106.90L362.22,106.34L362.44,105.79L362.66,105.24L362.89,104.68L363.12,104.13L363.35,103.58L363.59,103.03L363.83,102.48L364.08,101.92L364.33,101.37L364.58,100.82L364.84,100.26L365.10,99.71L365.36,99.16L365.62,98.60L365.88,98.05L366.15,97.49L366.41,96.94L366.68,96.38L366.94,95.82L367.21,95.27L367.48,94.71L367.74,94.15L368.01,93.59L368.28,93.04L368.55,92.48L368.82,91.93L369.09,91.37L369.36,90.82L369.64,90.27L369.92,89.72L370.20,89.18L370.49,88.64L370.78,88.10L371.07,87.56L371.36,87.03L371.66,86.50L371.96,85.97L372.27,85.45L372.59,84.94L372.90,84.43L373.23,83.92L373.55,83.42L373.89,82.93L374.23,82.44L374.57,81.96L374.92,81.49L375.28,81.02L375.65,80.56L376.02,80.11L376.40,79.66L376.79,79.22L377.19,78.79L377.59,78.37L378.00,77.96L378.41,77.55L378.84,77.15L379.26,76.76L379.70,76.38L380.14,76.00L380.59,75.63L381.05,75.26L381.51,74.91L381.97,74.56L382.44,74.21L382.92,73.87L383.40,73.54L383.89,73.22L384.38,72.90L384.88,72.59L385.39,72.28L385.89,71.98L386.41,71.69L386.92,71.40L387.44,71.11L387.97,70.84L388.50,70.57L389.03,70.30L389.57,70.04L390.11,69.78L390.66,69.53L391.20,69.28L391.75,69.04L392.31,68.81L392.87,68.57L393.43,68.35L393.99,68.12L394.56,67.91L395.12,67.69L395.69,67.48L396.27,67.28L396.84,67.08L397.42,66.88L398.00,66.69L398.58,66.50L399.16,66.31L399.74,66.13L400.33,65.95L400.91,65.77L401.50,65.60L402.09,65.43L402.68,65.27L403.27,65.10L403.86,64.94L404.45,64.79L405.04,64.63L405.63,64.48L406.22,64.33L406.81,64.18L407.40,64.04L407.99,63.90L408.58,63.76L409.17,63.62L409.76,63.49L410.36,63.36L410.95,63.23L411.54,63.10L412.13,62.98L412.72,62.86L413.31,62.74L413.91,62.62L414.50,62.51L415.09,62.39L415.68,62.28L416.28,62.18L416.87,62.07L417.46,61.97L418.06,61.86L418.65,61.76L419.24,61.67L419.84,61.57L420.43,61.48L421.02,61.39L421.62,61.30L422.21,61.21L422.80,61.12L423.40,61.04L423.99,60.96L424.59,60.88L425.18,60.80L425.77,60.72L426.37,60.65L426.96,60.58L427.56,60.50L428.15,60.43L428.75,60.37L429.34,60.30L429.94,60.24L430.53,60.17L431.13,60.11L431.72,60.05L432.32,59.99L432.91,59.94L433.51,59.88L434.10,59.83L434.70,59.77L435.30,59.72L435.89,59.67L436.49,59.63L437.08,59.58L437.68,59.53L438.28,59.49L438.87,59.44L439.47,59.40L440.06,59.36L440.66,59.32L441.26,59.28L441.85,59.25L442.45,59.21L443.05,59.17L443.65,59.14L444.24,59.11L444.84,59.07L445.44,59.04L446.03,59.01L446.63,58.98L447.23,58.95L447.83,58.93L448.42,58.90L449.02,58.87L449.62,58.85L450.22,58.82L450.81,58.80L451.41,58.78L452.01,58.76L452.61,58.73L453.21,58.71L453.80,58.69L454.40,58.67L455.00,58.65L455.60,58.63L456.20,58.62L456.79,58.60L457.39,58.58L457.99,58.56L458.59,58.55L459.19,58.53L459.79,58.52L460.39,58.50L460.98,58.49L461.58,58.47L462.18,58.46L462.78,58.44L463.38,58.43L463.98,58.41L464.58,58.40L465.18,58.39L465.78,58.37L466.38,58.36L466.98,58.35L467.57,58.33L468.17,58.32L468.77,58.31L469.37,58.29L469.97,58.28L470.57,58.27L471.17,58.25L471.77,58.24L472.37,58.22L472.97,58.21L473.57,58.20L474.17,58.18L474.77,58.17L475.37,58.15L475.97,58.14L476.57,58.12L477.17,58.11L477.77,58.10L478.37,58.08L478.97,58.07L479.57,58.05L480.17,58.04L480.77,58.02L481.37,58.01L481.97,57.99L482.57,57.98L483.17,57.96L483.77,57.95L484.37,57.93L484.97,57.92L485.57,57.90L486.17,57.89L486.77,57.87L487.37,57.86L487.97,57.84L488.57,57.83L489.17,57.81L489.77,57.80L490.37,57.78L490.97,57.77L491.57,57.75L492.17,57.74L492.78,57.72L493.38,57.71L493.98,57.69L494.58,57.68L495.18,57.66L495.78,57.65L496.38,57.63L496.98,57.62L497.58,57.60L498.18,57.59L498.78,57.57L499.38,57.56L499.98,57.54L500.58,57.53L501.18,57.51L501.78,57.50L502.38,57.48L502.98,57.47L503.59,57.46L504.19,57.44L504.79,57.43L505.39,57.41L505.99,57.40L506.59,57.38L507.19,57.37L507.79,57.36L508.39,57.34L508.99,57.33L509.59,57.32L510.19,57.30L510.79,57.29L511.39,57.28L511.99,57.26L512.59,57.25L513.19,57.24L513.79,57.22L514.39,57.21L515.00,57.20L515.60,57.19L516.20,57.17L516.80,57.16L517.40,57.15L518.00,57.14L518.60,57.13L519.20,57.11L519.80,57.10L520.40,57.09L521.00,57.08L521.60,57.07L522.20,57.06L522.80,57.05L523.40,57.04L524.00,57.03L524.60,57.02L525.20,57.01L525.80,57.00L526.40,56.99L527.00,56.98L527.60,56.97L528.20,56.96L528.80,56.95L529.40,56.94L530.00,56.93L530.60,56.92L531.20,56.91L531.80,56.91L532.40,56.90L533.00,56.89L533.60,56.88L534.20,56.88L534.80,56.87L535.39,56.86L535.99,56.86L536.59,56.85L537.19,56.84L537.79,56.84L538.39,56.83L538.99,56.83L539.59,56.82L540.19,56.82L540.79,56.81L541.39,56.81L541.99,56.80L542.30,56.80" stroke="#ff8410"/>
</g>
<g class="lt" font-size="11.45">
<path d="M155.2,116.90H177.0" stroke="#ff0000" stroke-width="1.6"/>
<text x="179.1" y="120.00">PDBIB50/silica</text>
<path d="M155.2,130.90H177.0" stroke="#0000ff" stroke-width="1.6"/>
<text x="179.1" y="134.00">PDBIB60/silica</text>
<path d="M155.2,144.70H177.0" stroke="#00ee00" stroke-width="1.6"/>
<text x="179.1" y="147.80">PDBIB70/silica</text>
<path d="M155.2,158.50H177.0" stroke="#948816" stroke-width="1.6"/>
<text x="179.1" y="161.60">PDBIB80/silica</text>
<path d="M155.2,172.40H177.0" stroke="#101010" stroke-width="1.6"/>
<text x="179.1" y="175.50">ESBR/silica</text>
</g>
<g class="lt" font-size="10.5">
<path d="M447.3,121.20H462.8" stroke="#990000" stroke-width="1.6"/>
<text x="465.0" y="123.80">PDBIB50/CB</text>
<path d="M447.3,134.60H462.8" stroke="#00f0f8" stroke-width="1.6"/>
<text x="465.0" y="137.20">PDBIB60/CB</text>
<path d="M447.3,148.00H462.8" stroke="#ff0090" stroke-width="1.6"/>
<text x="465.0" y="150.60">PDBIB70/CB</text>
<path d="M447.3,161.40H462.8" stroke="#9000ff" stroke-width="1.6"/>
<text x="465.0" y="164.00">PDBIB80/CB</text>
<path d="M447.3,174.60H462.8" stroke="#ff8410" stroke-width="1.6"/>
<text x="465.0" y="177.20">ESBR/CB</text>
</g>
<text class="lt" x="151.2" y="228.1" text-anchor="middle" font-size="11.3">Time (min)</text>
<text class="lt" x="433.2" y="228.9" text-anchor="middle" font-size="10.3">Time (min)</text>
<text class="lt" transform="translate(9.9,105.3) rotate(-90)" text-anchor="middle" font-size="11.5">Torque (dNm)</text>
<text class="lt" transform="translate(302.5,105.3) rotate(-90)" text-anchor="middle" font-size="11.0">Torque (dNm)</text>
<text class="pl" x="135.9" y="248.6" text-anchor="middle">(a)</text>
<text class="pl" x="422.8" y="248.5" text-anchor="middle">(b)</text>
</svg>
</body></html>
